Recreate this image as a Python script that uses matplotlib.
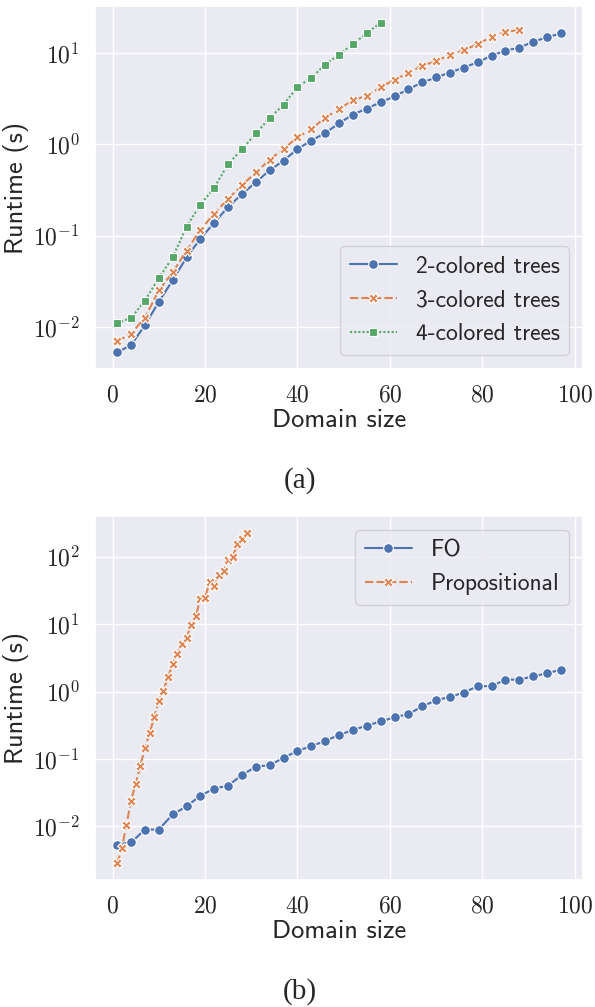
import numpy as np
import matplotlib
matplotlib.use('Agg')
import matplotlib.pyplot as plt
import matplotlib.ticker as mticker
import seaborn as sns

# (a) colored trees
x_trees = list(range(1, 98, 3))
rt_2col = [0.0053, 0.0064, 0.0105, 0.019, 0.0326, 0.058, 0.093, 0.139, 0.207, 0.286,
           0.386, 0.522, 0.665, 0.89, 1.10, 1.33, 1.70, 2.12, 2.46, 2.89,
           3.35, 4.02, 4.76, 5.39, 6.11, 6.92, 7.9, 9.35, 10.6, 11.4,
           13.3, 14.8, 16.4]
rt_3col = [0.0070, 0.0085, 0.0127, 0.0253, 0.0398, 0.069, 0.116, 0.175, 0.253, 0.359,
           0.493, 0.682, 0.898, 1.19, 1.47, 1.96, 2.42, 3.06, 3.38, 4.23,
           5.08, 6.05, 7.28, 8.11, 9.58, 10.7, 12.5, 15.0, 16.9, 17.9]
rt_4col = [0.0112, 0.0126, 0.0196, 0.0346, 0.058, 0.126, 0.220, 0.336, 0.612, 0.883,
           1.32, 1.94, 2.72, 4.26, 5.34, 7.46, 9.58, 12.5, 16.4, 21.5]

# (b) FO vs propositional
x_fo = list(range(1, 98, 3))
rt_fo = [0.0054, 0.0058, 0.0090, 0.0090, 0.0151, 0.0198, 0.0287, 0.0364, 0.0403, 0.058,
         0.0768, 0.0813, 0.104, 0.132, 0.155, 0.185, 0.227, 0.269, 0.312, 0.361,
         0.414, 0.463, 0.601, 0.744, 0.832, 0.966, 1.20, 1.20, 1.50, 1.50,
         1.68, 1.86, 2.11]
x_prop = list(range(1, 30))
rt_prop = [0.00283, 0.00475, 0.0106, 0.0242, 0.0431, 0.0794, 0.145, 0.240, 0.414, 0.728,
           1.03, 1.63, 2.52, 3.63, 5.10, 6.31, 9.7, 13.0, 23.9, 24.2,
           42.1, 36.8, 53.4, 60.5, 87.9, 98.4, 153, 179, 227]

sns.set_theme(style='darkgrid')
plt.rcParams['font.family'] = ['cmss10', 'DejaVu Sans']
plt.rcParams['mathtext.fontset'] = 'cm'
plt.rcParams['axes.unicode_minus'] = False

blue, orange, green = sns.color_palette('deep')[:3]

fig = plt.figure(figsize=(5.95, 10.07), dpi=100)
ax1 = fig.add_axes([0.1597, 0.6336, 0.8203, 0.3604])
ax2 = fig.add_axes([0.1597, 0.1261, 0.8203, 0.3615])


def style_line(ax, x, y, color, ls, marker, label, ms):
    ax.plot(x, y, color=color, linestyle=ls, marker=marker, markersize=ms,
            markeredgecolor='white', markeredgewidth=0.8, linewidth=1.5, label=label)


def fmt_axes(ax):
    ax.set_yscale('log')
    ax.yaxis.set_major_locator(mticker.LogLocator(base=10))
    ax.yaxis.set_minor_locator(mticker.NullLocator())
    ax.yaxis.set_major_formatter(mticker.FuncFormatter(
        lambda v, p: r'$10^{%d}$' % int(round(np.log10(v)))))
    ax.xaxis.set_major_locator(mticker.MultipleLocator(20))
    ax.xaxis.set_major_formatter(mticker.FuncFormatter(lambda v, p: r'$%d$' % int(v)))
    ax.tick_params(labelsize=17, pad=5)
    ax.set_xlabel('Domain size', fontsize=19, labelpad=2)
    ax.set_ylabel('Runtime (s)', fontsize=19, labelpad=3)


style_line(ax1, x_trees, rt_2col, blue, '-', 'o', '2-colored trees', 7)
style_line(ax1, x_trees[:len(rt_3col)], rt_3col, orange, (0, (4, 1.5)), 'X', '3-colored trees', 7)
style_line(ax1, x_trees[:len(rt_4col)], rt_4col, green, (0, (1, 1)), 's', '4-colored trees', 5.5)
fmt_axes(ax1)
ax1.legend(loc='lower right', fontsize=17, borderaxespad=0.6)

style_line(ax2, x_fo, rt_fo, blue, '-', 'o', 'FO', 7)
style_line(ax2, x_prop, rt_prop, orange, (0, (4, 1.5)), 'X', 'Propositional', 7)
fmt_axes(ax2)
ax2.legend(loc='upper right', fontsize=17, borderaxespad=0.6)

fig.text(0.504, 1 - 481 / 1007, '(a)', ha='center', va='center',
         family='Liberation Serif', fontsize=21)
fig.text(0.504, 1 - 992 / 1007, '(b)', ha='center', va='center',
         family='Liberation Serif', fontsize=21)

fig.savefig('out.png', dpi=100)
